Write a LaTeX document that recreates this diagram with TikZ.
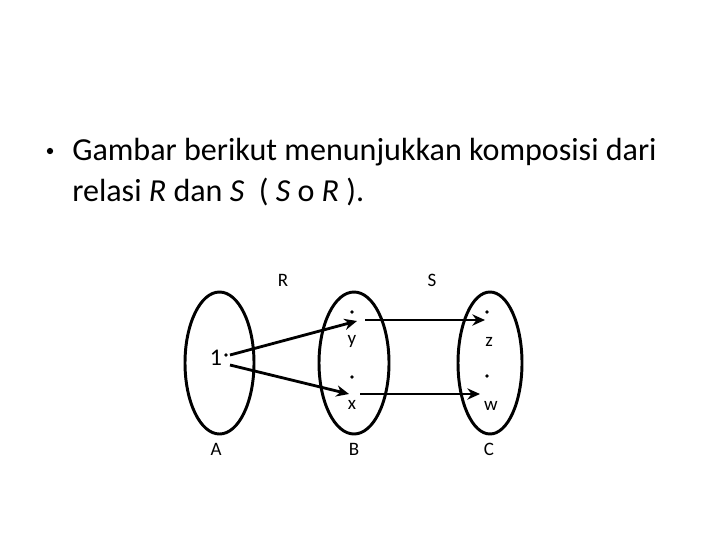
\documentclass[tikz,border=0pt]{standalone}
\usepackage{fontspec}
\setmainfont{Carlito}
\usetikzlibrary{arrows.meta}
\tikzset{
  himp/.style={draw,line width=2.1pt},
  lbl/.style={inner sep=0pt,font=\fontsize{13.5}{15}\selectfont},
  titik/.style={circle,fill,inner sep=0pt,minimum size=2.6pt},
  panah/.style={line width=2pt,-{Stealth[length=9pt,width=8pt]}}
}
\begin{document}
\begin{tikzpicture}[x=0.025cm,y=-0.025cm]
\useasboundingbox (0,0) rectangle (720,540);
% kalimat
\node[circle,fill,inner sep=0pt,minimum size=4.5pt] (bullet) at (50,151) {};
\node[anchor=base west,inner sep=0pt,font=\fontsize{22.8}{28}\selectfont] (baris1) at (72,160) {Gambar berikut menunjukkan komposisi dari};
\node[anchor=base west,inner sep=0pt,font=\fontsize{22.8}{28}\selectfont] (baris2) at (72,201) {relasi \textit{R} dan \textit{S}\ \ ( \textit{S} o \textit{R} ).};
% himpunan
\draw[himp] (219.5,363) ellipse [x radius=34.5, y radius=71];
\draw[himp] (354,363) ellipse [x radius=35, y radius=71];
\draw[himp] (490,363) ellipse [x radius=32, y radius=71];
\node[lbl] (labelR) at (283,280) {R};
\node[lbl] (labelS) at (432,280) {S};
\node[lbl] (labelA) at (216,449) {A};
\node[lbl] (labelB) at (354,449) {B};
\node[lbl] (labelC) at (489,449) {C};
% anggota
\node[inner sep=0pt,font=\fontsize{17}{20}\selectfont] (satu) at (216,358) {1};
\node[titik] (d1) at (226,355) {};
\node[titik] (dy) at (352,312) {};
\node[lbl] (y) at (352,341) {y};
\node[titik] (dx) at (352,377) {};
\node[lbl] (x) at (352,405) {x};
\node[titik] (dz) at (487,312) {};
\node[lbl] (z) at (489,342) {z};
\node[titik] (dw) at (487,376) {};
\node[lbl] (w) at (491,406) {w};
% ujung panah
\coordinate (a1) at (230,355);
\coordinate (a2) at (230,365);
\coordinate (ty) at (357,321);
\coordinate (tx) at (349,394);
\coordinate (sy) at (365,320);
\coordinate (sx) at (360,394);
\coordinate (tz) at (485,320);
\coordinate (tw) at (480,394);
\draw[panah] (a1) -- (ty);
\draw[panah] (a2) -- (tx);
\draw[panah] (sy) -- (tz);
\draw[panah] (sx) -- (tw);
\end{tikzpicture}
\end{document}
